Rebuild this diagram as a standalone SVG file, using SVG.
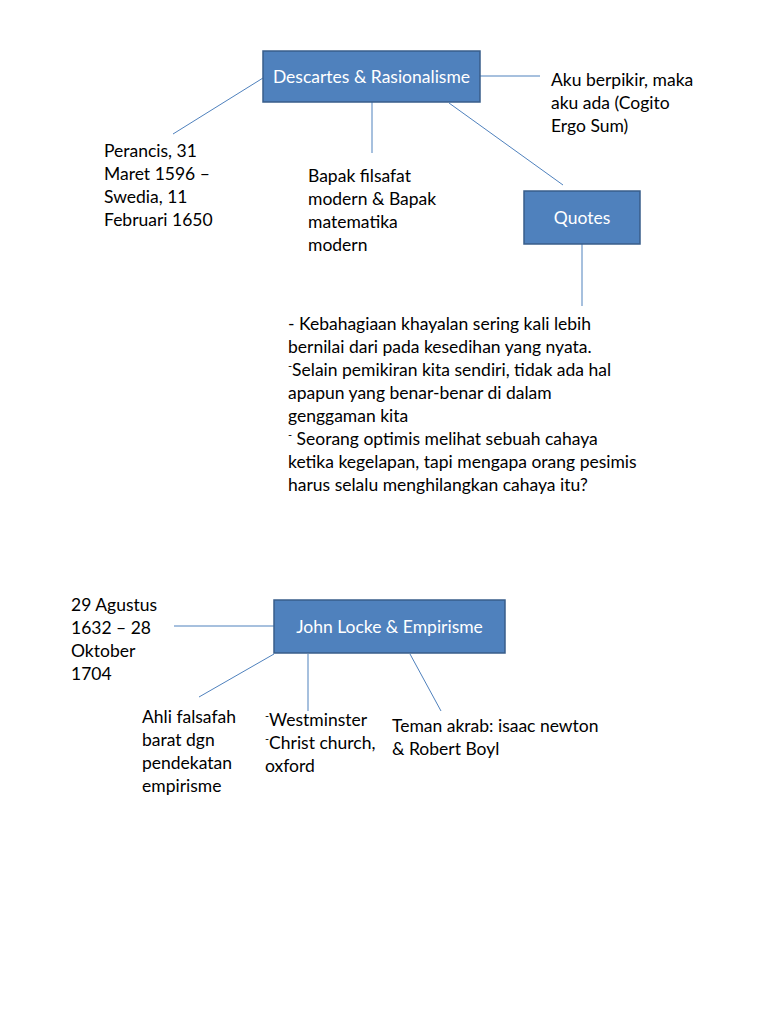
<svg xmlns="http://www.w3.org/2000/svg" width="768" height="1024" viewBox="0 0 768 1024">
<style>
.box{fill:#4F81BD;stroke:#385D8A;stroke-width:1.5}
.bt{fill:#fff;font-family:Lato,"Liberation Sans",sans-serif;font-size:17.5px;text-anchor:middle}
.t{fill:#000;font-family:Lato,"Liberation Sans",sans-serif;font-size:17.5px}
.q{fill:#000;font-family:Lato,"Liberation Sans",sans-serif;font-size:17.5px}
.c{stroke:#4F81BD;stroke-width:1;fill:none}
</style>
<rect width="768" height="1024" fill="#fff"/>
<g id="connectors">
<line class="c" x1="263" y1="78" x2="173" y2="134"/>
<line class="c" x1="372" y1="102" x2="372" y2="153"/>
<line class="c" x1="480" y1="76" x2="540" y2="76"/>
<line class="c" x1="449" y1="103" x2="563" y2="185"/>
<line class="c" x1="582" y1="244" x2="582" y2="306"/>
<line class="c" x1="274" y1="626" x2="174" y2="626"/>
<line class="c" x1="274" y1="654" x2="199" y2="697"/>
<line class="c" x1="308" y1="654" x2="308" y2="711"/>
<line class="c" x1="410" y1="654" x2="441" y2="711"/>
</g>
<g id="descartes">
<rect class="box" x="263" y="51" width="217" height="51"/>
<text class="bt" x="371.5" y="83">Descartes &amp; Rasionalisme</text>
</g>
<g id="quotes">
<rect class="box" x="524" y="191" width="116" height="53"/>
<text class="bt" x="582" y="224">Quotes</text>
</g>
<g id="locke">
<rect class="box" x="274" y="600" width="231" height="53"/>
<text class="bt" x="389.5" y="633">John Locke &amp; Empirisme</text>
</g>
<g id="cogito">
<text class="t" x="551" y="86">Aku berpikir, maka</text>
<text class="t" x="551" y="109">aku ada (Cogito</text>
<text class="t" x="551" y="132">Ergo Sum)</text>
</g>
<g id="lahir">
<text class="t" x="104" y="157">Perancis, 31</text>
<text class="t" x="104" y="180">Maret 1596 –</text>
<text class="t" x="104" y="203">Swedia, 11</text>
<text class="t" x="104" y="226">Februari 1650</text>
</g>
<g id="bapak">
<text class="t" x="308" y="182">Bapak filsafat</text>
<text class="t" x="308" y="205">modern &amp; Bapak</text>
<text class="t" x="308" y="228">matematika</text>
<text class="t" x="308" y="251">modern</text>
</g>
<g id="quotes-text">
<text class="q" x="288" y="330">- Kebahagiaan khayalan sering kali lebih</text>
<text class="q" x="288" y="353">bernilai dari pada kesedihan yang nyata.</text>
<text class="q" x="288" y="376"><tspan font-size="11" dy="-6">-</tspan><tspan dy="6">Selain pemikiran kita sendiri, tidak ada hal</tspan></text>
<text class="q" x="288" y="399">apapun yang benar-benar di dalam</text>
<text class="q" x="288" y="422">genggaman kita</text>
<text class="q" x="288" y="445"><tspan font-size="11" dy="-6">-</tspan><tspan dy="6"> Seorang optimis melihat sebuah cahaya</tspan></text>
<text class="q" x="288" y="468">ketika kegelapan, tapi mengapa orang pesimis</text>
<text class="q" x="288" y="491">harus selalu menghilangkan cahaya itu?</text>
</g>
<g id="locke-lahir">
<text class="t" x="71" y="611">29 Agustus</text>
<text class="t" x="71" y="634">1632 – 28</text>
<text class="t" x="71" y="657">Oktober</text>
<text class="t" x="71" y="680">1704</text>
</g>
<g id="ahli">
<text class="t" x="142" y="723">Ahli falsafah</text>
<text class="t" x="142" y="746">barat dgn</text>
<text class="t" x="142" y="769">pendekatan</text>
<text class="t" x="142" y="792">empirisme</text>
</g>
<g id="westminster">
<text class="t" x="265" y="726"><tspan font-size="11" dy="-6">-</tspan><tspan dy="6">Westminster</tspan></text>
<text class="t" x="265" y="749"><tspan font-size="11" dy="-6">-</tspan><tspan dy="6">Christ church,</tspan></text>
<text class="t" x="265" y="772">oxford</text>
</g>
<g id="teman">
<text class="t" x="392" y="732">Teman akrab: isaac newton</text>
<text class="t" x="392" y="755">&amp; Robert Boyl</text>
</g>
</svg>
